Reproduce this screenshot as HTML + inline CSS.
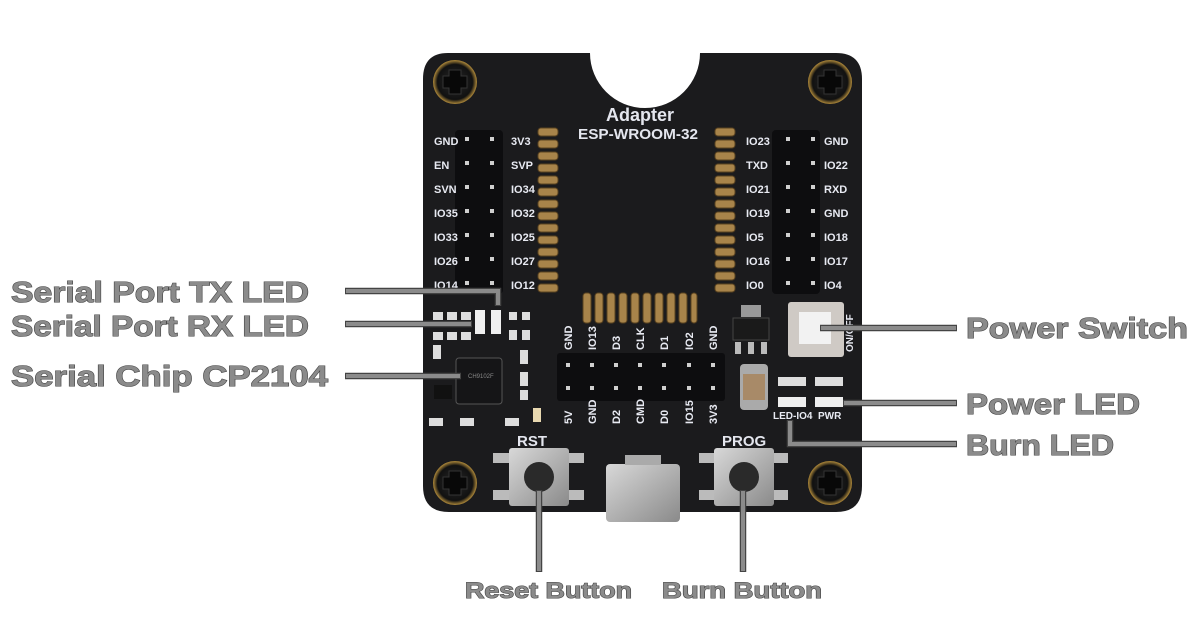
<!DOCTYPE html>
<html><head><meta charset="utf-8"><style>
html,body{margin:0;padding:0;background:#fff;}
svg{display:block;}
.lb{font-family:"Liberation Sans",sans-serif;font-weight:bold;fill:#8b8b8b;stroke:#444;stroke-width:1.1px;paint-order:stroke;}
.pl{font-family:"Liberation Sans",sans-serif;font-weight:bold;fill:#e8eaf2;font-size:11px;}
</style></head><body>
<svg width="1200" height="640" viewBox="0 0 1200 640" xmlns="http://www.w3.org/2000/svg">
<defs>
<radialGradient id="scr" cx="50%" cy="50%" r="50%"><stop offset="0" stop-color="#2a2a2a"/><stop offset="0.8" stop-color="#111"/><stop offset="1" stop-color="#b08a3a"/></radialGradient>
<linearGradient id="met" x1="0" y1="0" x2="1" y2="1"><stop offset="0" stop-color="#d8d8d8"/><stop offset="1" stop-color="#8a8a8a"/></linearGradient>
</defs>
<path d="M448 53 H590 A55 55 0 0 0 700 53 H836 Q862 53 862 79 V486 Q862 512 836 512 H449 Q423 512 423 486 V79 Q423 53 448 53 Z" fill="#1b1b1d"/>
<g>
<circle cx="455" cy="82" r="22" fill="url(#scr)"/><path d="M449 70h12v6h6v12h-6v6h-12v-6h-6v-12h6z" fill="#080808" stroke="#333"/>
<circle cx="830" cy="82" r="22" fill="url(#scr)"/><path d="M824 70h12v6h6v12h-6v6h-12v-6h-6v-12h6z" fill="#080808" stroke="#333"/>
<circle cx="455" cy="483" r="22" fill="url(#scr)"/><path d="M449 471h12v6h6v12h-6v6h-12v-6h-6v-12h6z" fill="#080808" stroke="#333"/>
<circle cx="830" cy="483" r="22" fill="url(#scr)"/><path d="M824 471h12v6h6v12h-6v6h-12v-6h-6v-12h6z" fill="#080808" stroke="#333"/>
</g>
<text x="640" y="121" text-anchor="middle" font-family="Liberation Sans,sans-serif" font-weight="bold" font-size="18" fill="#e4e6ee">Adapter</text>
<text x="638" y="139" text-anchor="middle" font-family="Liberation Sans,sans-serif" font-weight="bold" font-size="15" fill="#e4e6ee" textLength="120" lengthAdjust="spacingAndGlyphs">ESP-WROOM-32</text>
<g>
<rect x="455" y="130" width="48" height="164" rx="4" fill="#0d0d0f"/>
<rect x="772" y="130" width="48" height="164" rx="4" fill="#0d0d0f"/>
</g>
<g fill="#cfcfcf">
<rect x="465" y="137" width="4" height="4"/><rect x="490" y="137" width="4" height="4"/>
<rect x="465" y="161" width="4" height="4"/><rect x="490" y="161" width="4" height="4"/>
<rect x="465" y="185" width="4" height="4"/><rect x="490" y="185" width="4" height="4"/>
<rect x="465" y="209" width="4" height="4"/><rect x="490" y="209" width="4" height="4"/>
<rect x="465" y="233" width="4" height="4"/><rect x="490" y="233" width="4" height="4"/>
<rect x="465" y="257" width="4" height="4"/><rect x="490" y="257" width="4" height="4"/>
<rect x="465" y="281" width="4" height="4"/><rect x="490" y="281" width="4" height="4"/>
<rect x="786" y="137" width="4" height="4"/><rect x="811" y="137" width="4" height="4"/>
<rect x="786" y="161" width="4" height="4"/><rect x="811" y="161" width="4" height="4"/>
<rect x="786" y="185" width="4" height="4"/><rect x="811" y="185" width="4" height="4"/>
<rect x="786" y="209" width="4" height="4"/><rect x="811" y="209" width="4" height="4"/>
<rect x="786" y="233" width="4" height="4"/><rect x="811" y="233" width="4" height="4"/>
<rect x="786" y="257" width="4" height="4"/><rect x="811" y="257" width="4" height="4"/>
<rect x="786" y="281" width="4" height="4"/><rect x="811" y="281" width="4" height="4"/>
</g>
<g class="pl">
<text x="434" y="145">GND</text><text x="434" y="169">EN</text><text x="434" y="193">SVN</text><text x="434" y="217">IO35</text><text x="434" y="241">IO33</text><text x="434" y="265">IO26</text><text x="434" y="289">IO14</text>
<text x="511" y="145">3V3</text><text x="511" y="169">SVP</text><text x="511" y="193">IO34</text><text x="511" y="217">IO32</text><text x="511" y="241">IO25</text><text x="511" y="265">IO27</text><text x="511" y="289">IO12</text>
<text x="746" y="145">IO23</text><text x="746" y="169">TXD</text><text x="746" y="193">IO21</text><text x="746" y="217">IO19</text><text x="746" y="241">IO5</text><text x="746" y="265">IO16</text><text x="746" y="289">IO0</text>
<text x="824" y="145">GND</text><text x="824" y="169">IO22</text><text x="824" y="193">RXD</text><text x="824" y="217">GND</text><text x="824" y="241">IO18</text><text x="824" y="265">IO17</text><text x="824" y="289">IO4</text>
</g>
<g fill="#a8844a" stroke="#5a4320" stroke-width="1">
<rect x="538" y="128" width="20" height="8" rx="3"/><rect x="538" y="140" width="20" height="8" rx="3"/><rect x="538" y="152" width="20" height="8" rx="3"/><rect x="538" y="164" width="20" height="8" rx="3"/><rect x="538" y="176" width="20" height="8" rx="3"/><rect x="538" y="188" width="20" height="8" rx="3"/><rect x="538" y="200" width="20" height="8" rx="3"/><rect x="538" y="212" width="20" height="8" rx="3"/><rect x="538" y="224" width="20" height="8" rx="3"/><rect x="538" y="236" width="20" height="8" rx="3"/><rect x="538" y="248" width="20" height="8" rx="3"/><rect x="538" y="260" width="20" height="8" rx="3"/><rect x="538" y="272" width="20" height="8" rx="3"/><rect x="538" y="284" width="20" height="8" rx="3"/>
<rect x="715" y="128" width="20" height="8" rx="3"/><rect x="715" y="140" width="20" height="8" rx="3"/><rect x="715" y="152" width="20" height="8" rx="3"/><rect x="715" y="164" width="20" height="8" rx="3"/><rect x="715" y="176" width="20" height="8" rx="3"/><rect x="715" y="188" width="20" height="8" rx="3"/><rect x="715" y="200" width="20" height="8" rx="3"/><rect x="715" y="212" width="20" height="8" rx="3"/><rect x="715" y="224" width="20" height="8" rx="3"/><rect x="715" y="236" width="20" height="8" rx="3"/><rect x="715" y="248" width="20" height="8" rx="3"/><rect x="715" y="260" width="20" height="8" rx="3"/><rect x="715" y="272" width="20" height="8" rx="3"/><rect x="715" y="284" width="20" height="8" rx="3"/>
<rect x="583" y="293" width="8" height="30" rx="3"/><rect x="595" y="293" width="8" height="30" rx="3"/><rect x="607" y="293" width="8" height="30" rx="3"/><rect x="619" y="293" width="8" height="30" rx="3"/><rect x="631" y="293" width="8" height="30" rx="3"/><rect x="643" y="293" width="8" height="30" rx="3"/><rect x="655" y="293" width="8" height="30" rx="3"/><rect x="667" y="293" width="8" height="30" rx="3"/><rect x="679" y="293" width="8" height="30" rx="3"/><rect x="691" y="293" width="6" height="30" rx="3"/>
</g>
<rect x="557" y="353" width="168" height="48" rx="3" fill="#0d0d0f"/>
<g fill="#cfcfcf">
<rect x="566" y="363" width="4" height="4"/><rect x="590" y="363" width="4" height="4"/><rect x="614" y="363" width="4" height="4"/><rect x="638" y="363" width="4" height="4"/><rect x="662" y="363" width="4" height="4"/><rect x="687" y="363" width="4" height="4"/><rect x="711" y="363" width="4" height="4"/>
<rect x="566" y="386" width="4" height="4"/><rect x="590" y="386" width="4" height="4"/><rect x="614" y="386" width="4" height="4"/><rect x="638" y="386" width="4" height="4"/><rect x="662" y="386" width="4" height="4"/><rect x="687" y="386" width="4" height="4"/><rect x="711" y="386" width="4" height="4"/>
</g>
<g class="pl">
<text transform="translate(572,350) rotate(-90)">GND</text><text transform="translate(596,350) rotate(-90)">IO13</text><text transform="translate(620,350) rotate(-90)">D3</text><text transform="translate(644,350) rotate(-90)">CLK</text><text transform="translate(668,350) rotate(-90)">D1</text><text transform="translate(693,350) rotate(-90)">IO2</text><text transform="translate(717,350) rotate(-90)">GND</text>
<text transform="translate(572,424) rotate(-90)">5V</text><text transform="translate(596,424) rotate(-90)">GND</text><text transform="translate(620,424) rotate(-90)">D2</text><text transform="translate(644,424) rotate(-90)">CMD</text><text transform="translate(668,424) rotate(-90)">D0</text><text transform="translate(693,424) rotate(-90)">IO15</text><text transform="translate(717,424) rotate(-90)">3V3</text>
<text x="773" y="419" font-size="10">LED-IO4</text><text x="818" y="419" font-size="10">PWR</text>
</g>
<text x="517" y="446" font-family="Liberation Sans,sans-serif" font-weight="bold" font-size="15" fill="#e4e6ee">RST</text>
<text x="722" y="446" font-family="Liberation Sans,sans-serif" font-weight="bold" font-size="15" fill="#e4e6ee">PROG</text>
<g fill="#ddd">
<rect x="433" y="312" width="10" height="8"/><rect x="447" y="312" width="10" height="8"/><rect x="461" y="312" width="10" height="8"/><rect x="509" y="312" width="8" height="8"/><rect x="522" y="312" width="8" height="8"/>
<rect x="433" y="332" width="10" height="8"/><rect x="447" y="332" width="10" height="8"/><rect x="461" y="332" width="10" height="8"/><rect x="509" y="330" width="8" height="10"/><rect x="522" y="330" width="8" height="10"/>
<rect x="433" y="345" width="8" height="14"/><rect x="520" y="350" width="8" height="14"/><rect x="520" y="372" width="8" height="14"/><rect x="520" y="390" width="8" height="10"/>
<rect x="429" y="418" width="14" height="8"/><rect x="460" y="418" width="14" height="8"/><rect x="505" y="418" width="14" height="8"/>
<rect x="533" y="408" width="8" height="14" fill="#e8d8b0"/>
<rect x="434" y="385" width="18" height="14" fill="#111"/>
<rect x="475" y="310" width="10" height="24" fill="#f0f0f0"/><rect x="491" y="310" width="10" height="24" fill="#f0f0f0"/>
</g>
<rect x="456" y="358" width="46" height="46" rx="3" fill="#151517" stroke="#555"/>
<text x="468" y="378" font-family="Liberation Sans,sans-serif" font-size="6" fill="#888">CH9102F</text>
<rect x="733" y="318" width="36" height="22" fill="#1a1a1a" stroke="#444"/><rect x="741" y="305" width="20" height="12" fill="#999"/>
<rect x="735" y="342" width="6" height="12" fill="#bbb"/><rect x="748" y="342" width="6" height="12" fill="#bbb"/><rect x="761" y="342" width="6" height="12" fill="#bbb"/>
<rect x="740" y="364" width="28" height="46" rx="4" fill="#aaa"/><rect x="743" y="374" width="22" height="26" fill="#a88a68"/>
<rect x="788" y="302" width="56" height="55" rx="3" fill="#cfcac5"/><rect x="799" y="312" width="32" height="32" fill="#f2f2f2"/>
<text transform="translate(853,352) rotate(-90)" font-family="Liberation Sans,sans-serif" font-weight="bold" font-size="10" fill="#e8eaf2">ON/OFF</text>
<rect x="778" y="377" width="28" height="9" fill="#ddd"/><rect x="815" y="377" width="28" height="9" fill="#ddd"/>
<rect x="778" y="397" width="28" height="10" fill="#eee"/><rect x="815" y="397" width="28" height="10" fill="#eee"/>
<g>
<rect x="493" y="453" width="18" height="10" fill="#bbb"/><rect x="568" y="453" width="16" height="10" fill="#bbb"/><rect x="493" y="490" width="18" height="10" fill="#bbb"/><rect x="568" y="490" width="16" height="10" fill="#bbb"/>
<rect x="509" y="448" width="60" height="58" rx="3" fill="url(#met)"/><circle cx="539" cy="477" r="15" fill="#2a2a2a"/>
<rect x="699" y="453" width="18" height="10" fill="#bbb"/><rect x="772" y="453" width="16" height="10" fill="#bbb"/><rect x="699" y="490" width="18" height="10" fill="#bbb"/><rect x="772" y="490" width="16" height="10" fill="#bbb"/>
<rect x="714" y="448" width="60" height="58" rx="3" fill="url(#met)"/><circle cx="744" cy="477" r="15" fill="#2a2a2a"/>
<rect x="606" y="464" width="74" height="58" rx="4" fill="url(#met)"/>
<rect x="625" y="455" width="36" height="10" fill="#aaa"/>
</g>
<g fill="none" stroke="#444" stroke-width="6.5" stroke-linejoin="miter">
<path d="M345 291H498V306"/><path d="M345 324H472"/><path d="M345 376H461"/>
<path d="M820 328H957"/><path d="M843 403H957"/><path d="M790 420V444H957"/>
<path d="M539 490V572"/><path d="M743 490V572"/>
</g>
<g fill="none" stroke="#8b8b8b" stroke-width="4" stroke-linejoin="miter">
<path d="M346 291H498V305"/><path d="M346 324H471"/><path d="M346 376H460"/>
<path d="M821 328H956"/><path d="M844 403H956"/><path d="M790 421V444H956"/>
<path d="M539 491V571"/><path d="M743 491V571"/>
</g>
<text class="lb" x="11" y="302" font-size="29" textLength="298" lengthAdjust="spacingAndGlyphs">Serial Port TX LED</text>
<text class="lb" x="11" y="336" font-size="29" textLength="298" lengthAdjust="spacingAndGlyphs">Serial Port RX LED</text>
<text class="lb" x="11" y="386" font-size="29" textLength="317" lengthAdjust="spacingAndGlyphs">Serial Chip CP2104</text>
<text class="lb" x="966" y="338" font-size="29" textLength="222" lengthAdjust="spacingAndGlyphs">Power Switch</text>
<text class="lb" x="966" y="414" font-size="29" textLength="174" lengthAdjust="spacingAndGlyphs">Power LED</text>
<text class="lb" x="966" y="455" font-size="29" textLength="148" lengthAdjust="spacingAndGlyphs">Burn LED</text>
<text class="lb" x="465" y="598" font-size="22" textLength="167" lengthAdjust="spacingAndGlyphs">Reset Button</text>
<text class="lb" x="662" y="598" font-size="22" textLength="160" lengthAdjust="spacingAndGlyphs">Burn Button</text>
</svg>
</body></html>
